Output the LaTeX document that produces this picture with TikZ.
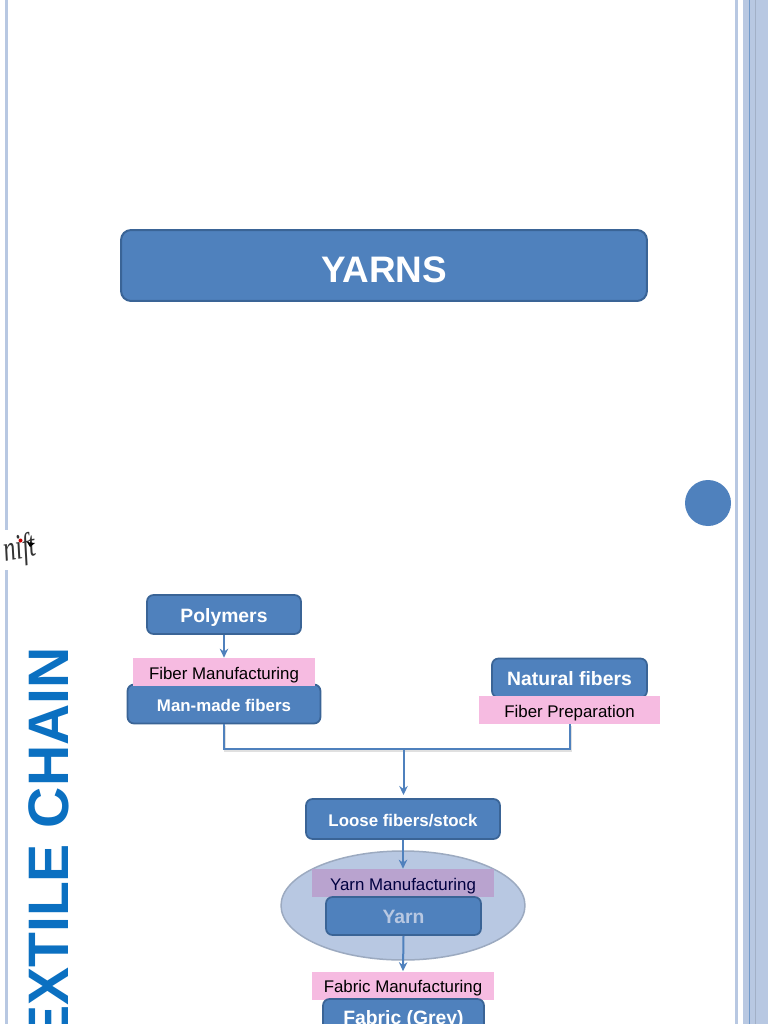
\documentclass[tikz,border=0pt]{standalone}
\usepackage{fontspec}
\setmainfont{Liberation Sans}
\newfontfamily\logofont{Liberation Serif}
\usetikzlibrary{calc,arrows.meta,shapes.geometric}
\definecolor{boxblue}{HTML}{4F81BD}
\definecolor{boxedge}{HTML}{3A6496}
\definecolor{bandblue}{HTML}{B8C8E2}
\definecolor{stepink}{HTML}{F6BBE1}
\definecolor{stepmauve}{HTML}{B9A3CF}
\definecolor{titleblue}{HTML}{0B70C1}
\tikzset{
	chainbox/.style={draw=boxedge, line width=0.035cm, fill=boxblue, rounded corners=0.13cm, text=white, inner sep=0, text height=0.3cm, text depth=0cm, font=\bfseries\fontsize{10.4}{12}\selectfont},
	stepbox/.style={fill=stepink, inner sep=0, text=black, text height=0.28cm, text depth=0cm, font=\fontsize{9.6}{12}\selectfont, minimum width=3.63cm, minimum height=0.56cm},
	chainline/.style={draw=boxblue, line width=0.04cm},
	chainarrow/.style={chainline, -{Stealth[length=0.18cm,width=0.17cm]}},
	shadowline/.style={draw=black!12, line width=0.05cm}
}
\begin{document}
\begin{tikzpicture}[x=0.02cm, y=-0.02cm]
			%%%%% START %%%%%
			
			\clip (0, 0) rectangle (768, 1024);
			\fill[white] (0, 0) rectangle (768, 1024);
			
			% page bands
			\fill[bandblue] (4.5, 0) rectangle (8, 1024);
			\fill[bandblue] (734.5, 0) rectangle (738, 1024);
			\fill[bandblue] (743, 0) rectangle (768, 1024);
			\draw[line width=0.02cm, color=boxblue!80] (749, 0) -- (749, 1024);
			\draw[line width=0.02cm, color=black!12!bandblue] (755.5, 0) -- (755.5, 1024);
			
			\node[draw=boxedge, line width=0.04cm, fill=boxblue, rounded corners=0.2cm, text=white, inner sep=0, text height=0.69cm, text depth=0cm, minimum width=10.52cm, minimum height=1.42cm, font=\bfseries\fontsize{21}{24}\selectfont] (yarns) at (384, 265.5) {YARNS};
			\node[circle, fill=boxblue, inner sep=0, minimum size=0.92cm] (dot) at (708, 503) {};
			
			% logo
			\fill[white] (0, 530) rectangle (37, 570);
			\node[inner sep=0, font=\logofont\itshape\fontsize{14}{14}\selectfont, color=black!80, rotate=10] (logo) at (20, 550) {\scalebox{1}[1.45]{nift}};
			\fill[red!80!black] (20.5, 540.5) circle (2);
			\fill[black] (27, 542) -- (35, 543) -- (30, 547) -- cycle;
			
			\node[rotate=90, anchor=east, inner sep=0, text=titleblue, font=\bfseries\fontsize{32.5}{36}\selectfont] (title) at (48.5, 647) {TEXTILE CHAIN};
			
			\node[chainbox, minimum width=3.08cm, minimum height=0.78cm, font=\bfseries\fontsize{11}{12}\selectfont] (polymers) at (224, 614.5) {Polymers};
			\node[chainbox, minimum width=3.86cm, minimum height=0.78cm, font=\bfseries\fontsize{9.6}{12}\selectfont] (manmade) at (224, 704) {Man-made fibers};
			\node[stepbox] (fibermfg) at (224, 672) {Fiber Manufacturing};
			
			\node[chainbox, minimum width=3.1cm, minimum height=0.78cm, font=\bfseries\fontsize{11}{12}\selectfont] (natural) at (569.5, 678) {Natural fibers};
			\node[stepbox] (fiberprep) at (569.5, 710) {Fiber Preparation};
			
			\node[chainbox, minimum width=3.88cm, minimum height=0.8cm, font=\bfseries\fontsize{9.6}{12}\selectfont] (loose) at (403, 819) {Loose fibers/stock};
			
			\node[ellipse, draw=bandblue!85!black, line width=0.03cm, fill=bandblue, inner sep=0, minimum width=4.88cm, minimum height=2.18cm] (blob) at (403, 905.5) {};
			\node[stepbox, fill=stepmauve, text=black!75!blue] (yarnmfg) at (403, 883) {Yarn Manufacturing};
			\node[chainbox, text=bandblue, minimum width=3.1cm, minimum height=0.76cm, font=\bfseries\fontsize{11}{12}\selectfont] (yarn) at (403.5, 916) {Yarn};
			
			\node[stepbox] (fabricmfg) at (403, 985.5) {Fabric Manufacturing};
			\node[chainbox, text height=0.28cm, minimum width=3.22cm, minimum height=0.72cm, font=\bfseries\fontsize{11}{12}\selectfont] (fabric) at (403.5, 1017) {Fabric (Grey)};
			
			\coordinate (joint) at (403.5, 749);
			\draw[shadowline] ($(manmade.south)+(1, 2)$) |- ($(joint)+(0, 2)$) -| ($(fiberprep.south)+(1, 2)$);
			\draw[chainline] (manmade.south) |- (joint) -| (fiberprep.south);
			\draw[chainarrow] (joint) -- (403.5, 795);
			\draw[chainarrow] (polymers.south) -- (fibermfg.north);
			\draw[chainarrow] (loose.south) -- (yarnmfg.north);
			\draw[chainarrow] (yarn.south) -- (fabricmfg.north);
			
			%%%%% END %%%%%
		\end{tikzpicture}
\end{document}
